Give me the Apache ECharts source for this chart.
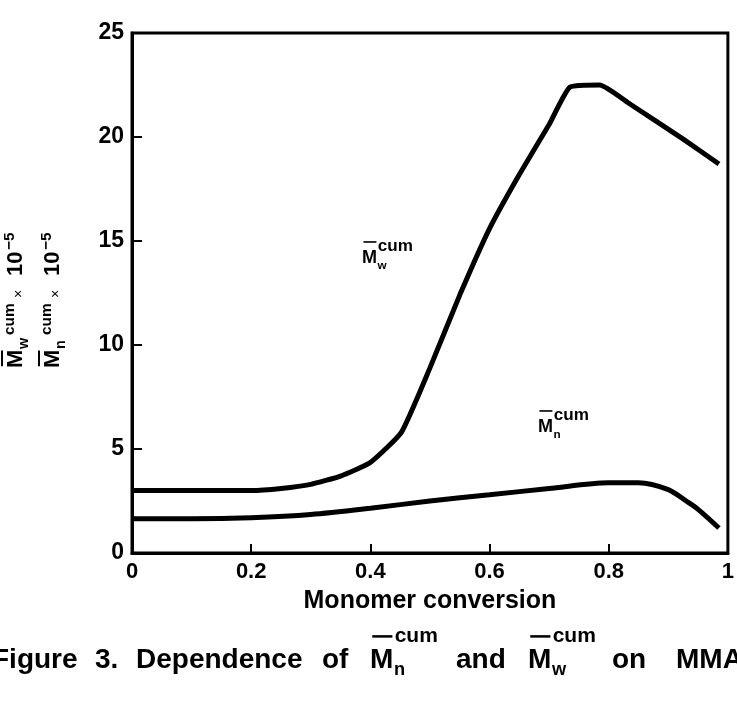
<!DOCTYPE html>
<html>
<head>
<meta charset="utf-8">
<script src="https://cdn.jsdelivr.net/npm/echarts@6/dist/echarts.min.js"></script>
<style>
  html, body { margin: 0; padding: 0; background: #fff; }
  #chart { width: 737px; height: 701px; }
</style>
</head>
<body>
<div id="chart"></div>
<script>
// values
const mwConversion = [0, 0.1, 0.2, 0.25, 0.3, 0.35, 0.4, 0.452, 0.5, 0.55, 0.6, 0.65, 0.7, 0.735, 0.785, 0.835, 0.925, 0.985]
const mwValues = [3.0, 3.0, 3.0, 3.1, 3.3, 3.7, 4.35, 5.8, 8.9, 12.4, 15.6, 18.2, 20.6, 22.4, 22.5, 21.6, 19.9, 18.7]
const mnConversion = [0, 0.1, 0.2, 0.3, 0.4, 0.5, 0.6, 0.7, 0.8, 0.85, 0.9, 0.93, 0.95, 0.985]
const mnValues = [1.65, 1.65, 1.7, 1.85, 2.15, 2.5, 2.8, 3.1, 3.38, 3.38, 3.05, 2.5, 2.1, 1.2]
const xTicks = [0, 0.2, 0.4, 0.6, 0.8, 1]
const yTicks = [0, 5, 10, 15, 20, 25]

const FONT = '"Liberation Sans", Arial, sans-serif'
const chart = echarts.init(document.getElementById('chart'), null, { renderer: 'canvas' })

function zip(xs, ys) {
  return xs.map((x, i) => [x, ys[i]])
}

// text placed by its baseline
function txt(str, x, base, size, weight) {
  return {
    type: 'text',
    x: x,
    y: base - 0.36 * size,
    style: {
      text: str,
      font: (weight || 'bold') + ' ' + size + 'px ' + FONT,
      fill: '#000',
      align: 'left',
      verticalAlign: 'middle'
    }
  }
}

// M with overbar, subscript and "cum", optional "x 10^-5"
function mSymbol(sub, fs, opts) {
  opts = opts || {}
  const barY = (opts.barY || -1.2) * fs
  const supY = (opts.supY || -0.72) * fs
  const supSize = (opts.supSize || 0.75) * fs
  const els = []
  els.push(txt('M', 0, 0, fs))
  els.push({
    type: 'line',
    shape: { x1: 0.08 * fs, y1: barY, x2: 0.8 * fs, y2: barY },
    style: { stroke: '#000', lineWidth: Math.max(1.5, fs * 0.09) }
  })
  els.push(txt(sub, 0.86 * fs, 0.25 * fs, 0.65 * fs))
  const supX = opts.supX != null ? opts.supX : 0.88 * fs
  els.push(txt('cum', supX, supY, supSize))
  if (opts.power) {
    const p = opts.power
    els.push(txt('\u00d7', p.times, 0, 0.65 * fs, 'normal'))
    els.push(txt('10', p.ten, 0, fs))
    els.push(txt('\u22125', p.exp, supY, supSize))
  }
  return els
}

const titlePower = { times: 70, ten: 92, exp: 118 }
const titleOpts = { supX: 33, supY: -0.38, supSize: 0.7, barY: -1.0, power: titlePower }
const plotOpts = { barY: -1.28, supY: -0.72, supSize: 0.95 }
const capOpts = { barY: -1.2, supY: -0.95, supSize: 0.75 }

function word(str, x) {
  return txt(str, x, 670, 28)
}

const graphics = [
  // labels inside the plot
  { type: 'group', x: 362, y: 265, children: mSymbol('w', 18, plotOpts) },
  { type: 'group', x: 538, y: 434, children: mSymbol('n', 18, plotOpts) },
  // rotated y axis title, two lines
  { type: 'group', x: 24, y: 368, rotation: Math.PI / 2, children: mSymbol('w', 22, titleOpts) },
  { type: 'group', x: 61, y: 368, rotation: Math.PI / 2, children: mSymbol('n', 22, titleOpts) },
  // caption
  word('Figure', -8),
  word('3.', 95),
  word('Dependence', 136),
  word('of', 322),
  { type: 'group', x: 370, y: 670, children: mSymbol('n', 28, capOpts) },
  word('and', 456),
  { type: 'group', x: 528, y: 670, children: mSymbol('w', 28, capOpts) },
  word('on', 612),
  word('MMA', 676)
]

const option = {
  animation: false,
  backgroundColor: '#fff',
  grid: {
    left: 132,
    right: 5,
    top: 33,
    bottom: 148,
    show: true,
    borderColor: '#000',
    borderWidth: 3
  },
  xAxis: {
    type: 'value',
    min: xTicks[0],
    max: xTicks[xTicks.length - 1],
    interval: 0.2,
    splitLine: { show: false },
    axisLine: { lineStyle: { color: '#000', width: 3 } },
    axisTick: { inside: true, length: 9, lineStyle: { color: '#000', width: 2 } },
    axisLabel: { color: '#000', fontSize: 22, fontWeight: 'bold', fontFamily: FONT, margin: 8 },
    name: 'Monomer conversion',
    nameLocation: 'middle',
    nameGap: 36,
    nameTextStyle: { color: '#000', fontSize: 25, fontWeight: 'bold', fontFamily: FONT }
  },
  yAxis: {
    type: 'value',
    min: yTicks[0],
    max: yTicks[yTicks.length - 1],
    interval: 5,
    splitLine: { show: false },
    axisLine: { lineStyle: { color: '#000', width: 3 } },
    axisTick: { inside: true, length: 10, lineStyle: { color: '#000', width: 2 } },
    axisLabel: { color: '#000', fontSize: 23, fontWeight: 'bold', fontFamily: FONT, margin: 8 }
  },
  series: [
    {
      name: 'Mw',
      type: 'line',
      data: zip(mwConversion, mwValues),
      showSymbol: false,
      smooth: 0.15,
      lineStyle: { color: '#000', width: 5 }
    },
    {
      name: 'Mn',
      type: 'line',
      data: zip(mnConversion, mnValues),
      showSymbol: false,
      smooth: 0.3,
      lineStyle: { color: '#000', width: 5 }
    }
  ],
  graphic: graphics
}

chart.setOption(option)
</script>
</body>
</html>
